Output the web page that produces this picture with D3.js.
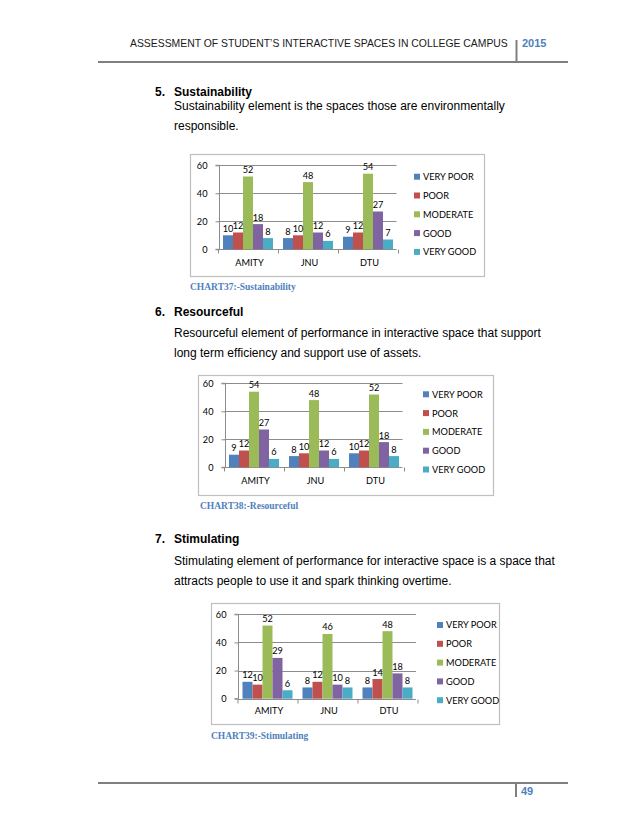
<!DOCTYPE html>
<html>
<head>
<meta charset="utf-8">
<script src="https://cdn.jsdelivr.net/npm/d3@7"></script>
<style>
  html, body { margin: 0; padding: 0; background: #fff; }
  svg { display: block; }
</style>
</head>
<body>
<script>
// ---------- DATA ----------
const categories = ["AMITY", "JNU", "DTU"];
const seriesNames = ["VERY POOR", "POOR", "MODERATE", "GOOD", "VERY GOOD"];
const seriesColors = ["#4F81BD", "#C0504D", "#9BBB59", "#8064A2", "#4BACC6"];
const yTicks = [0, 20, 40, 60];
// values per category: [VERY POOR, POOR, MODERATE, GOOD, VERY GOOD]
const sustainability = [[10, 12, 52, 18, 8], [8, 10, 48, 12, 6], [9, 12, 54, 27, 7]];
const resourceful    = [[9, 12, 54, 27, 6], [8, 10, 48, 12, 6], [10, 12, 52, 18, 8]];
const stimulating    = [[12, 10, 52, 29, 6], [8, 12, 46, 10, 8], [8, 14, 48, 18, 8]];
const captions = ["CHART37:-Sustainability", "CHART38:-Resourceful", "CHART39:-Stimulating"];

const headerText = "ASSESSMENT OF STUDENT\u2019S INTERACTIVE SPACES IN COLLEGE CAMPUS";
const headerYear = "2015";
const pageNumber = "49";
const sections = [
  { num: "5.", title: "Sustainability",
    lines: ["Sustainability element is the spaces those are environmentally", "responsible."] },
  { num: "6.", title: "Resourceful",
    lines: ["Resourceful element of performance in interactive space that support", "long term efficiency and support use of assets."] },
  { num: "7.", title: "Stimulating",
    lines: ["Stimulating element of performance for interactive space is a space that", "attracts people to use it and spark thinking overtime."] }
];

// ---------- LAYOUT ----------
const W = 638, H = 826;
const sectionLayout = [
  { titleY: 91, lineY: [105, 125] },
  { titleY: 311, lineY: [332, 352] },
  { titleY: 538, lineY: [560, 580.5] }
];
const chartLayout = [
  { box: [190, 154, 294, 122], axisX: 218.5, yTop: 165.3, yBot: 249.3, legendX: 414, legendY: 176.7, catY: 262.7, capX: 190, capY: 286 },
  { box: [198, 375, 295, 120], axisX: 224.5, yTop: 383.3, yBot: 467.3, legendX: 423, legendY: 394.3, catY: 480.7, capX: 200, capY: 505 },
  { box: [211, 603, 288, 121], axisX: 238, yTop: 614.3, yBot: 698.7, legendX: 437, legendY: 625, catY: 711, capX: 211, capY: 735 }
];
const chartData = [sustainability, resourceful, stimulating];

const svg = d3.select("body").append("svg").attr("width", W).attr("height", H);
svg.append("rect").attr("width", W).attr("height", H).attr("fill", "#fff");

const sans = "'Liberation Sans', Arial, sans-serif";
const chartFont = "Lato, 'Open Sans', sans-serif";
const chartFontSize = 9.2;

// Header
svg.append("text").attr("x", 130).attr("y", 47).attr("font-family", sans).attr("font-size", 10.4)
  .attr("fill", "#1a1a1a").text(headerText);
svg.append("line").attr("x1", 516.5).attr("x2", 516.5).attr("y1", 40).attr("y2", 62)
  .attr("stroke", "#7f7f7f").attr("stroke-width", 2);
svg.append("text").attr("x", 522).attr("y", 47).attr("font-family", sans).attr("font-size", 11)
  .attr("font-weight", "bold").attr("fill", "#4F81BD").text(headerYear);
svg.append("line").attr("x1", 98).attr("x2", 568).attr("y1", 62).attr("y2", 62)
  .attr("stroke", "#7f7f7f").attr("stroke-width", 2);

// Footer
svg.append("line").attr("x1", 98).attr("x2", 568).attr("y1", 783).attr("y2", 783)
  .attr("stroke", "#7f7f7f").attr("stroke-width", 2);
svg.append("line").attr("x1", 516).attr("x2", 516).attr("y1", 783).attr("y2", 797)
  .attr("stroke", "#7f7f7f").attr("stroke-width", 2);
svg.append("text").attr("x", 521).attr("y", 795).attr("font-family", sans).attr("font-size", 11)
  .attr("font-weight", "bold").attr("fill", "#4F81BD").text(pageNumber);

// Sections
sections.forEach((s, i) => {
  const L = sectionLayout[i];
  svg.append("text").attr("x", 155).attr("y", L.titleY + 4.5).attr("font-family", sans)
    .attr("font-size", 12).attr("font-weight", "bold").text(s.num);
  svg.append("text").attr("x", 174).attr("y", L.titleY + 4.5).attr("font-family", sans)
    .attr("font-size", 12).attr("font-weight", "bold").text(s.title);
  s.lines.forEach((ln, j) => {
    svg.append("text").attr("x", 174).attr("y", L.lineY[j] + 4.5).attr("font-family", sans)
      .attr("font-size", 12).attr("fill", "#000").text(ln);
  });
});

// Charts
chartData.forEach((data, ci) => {
  const C = chartLayout[ci];
  const g = svg.append("g");
  g.append("rect").attr("x", C.box[0] + 0.5).attr("y", C.box[1] + 0.5)
    .attr("width", C.box[2]).attr("height", C.box[3])
    .attr("fill", "#fff").attr("stroke", "#bfbfbf").attr("stroke-width", 1.2);

  const x = d3.scaleBand().domain(categories).range([C.axisX, C.axisX + 180]).paddingInner(0).paddingOuter(0);
  const xs = d3.scaleBand().domain(seriesNames).range([4.5, 54.5]);
  const y = d3.scaleLinear().domain([0, 60]).range([C.yBot, C.yTop]);

  // gridlines
  g.append("g").selectAll("line").data(yTicks.filter(t => t > 0)).join("line")
    .attr("x1", C.axisX).attr("x2", C.axisX + 178)
    .attr("y1", d => Math.round(y(d)) + 0.5).attr("y2", d => Math.round(y(d)) + 0.5)
    .attr("stroke", "#8c8c8c").attr("stroke-width", 1);

  // y axis
  const ya = g.append("g").attr("transform", `translate(${Math.round(C.axisX) + 0.5},0)`)
    .call(d3.axisLeft(y).tickValues(yTicks).tickSize(4).tickPadding(8).tickFormat(d3.format("d")));
  ya.select(".domain").attr("stroke", "#8c8c8c").attr("d", `M-4,${y(0)}H0V${y(60)}H-4`);
  ya.selectAll(".tick line").attr("stroke", "#8c8c8c");
  ya.selectAll(".tick text").attr("font-family", chartFont).attr("font-size", chartFontSize).attr("fill", "#000");

  // x axis
  const xa = g.append("g").attr("transform", `translate(0,${Math.round(y(0)) + 0.5})`)
    .call(d3.axisBottom(x).tickSize(0).tickPadding(0));
  xa.select(".domain").attr("stroke", "#8c8c8c").attr("d", `M${C.axisX},0H${C.axisX + 178}`);
  xa.selectAll(".tick text").remove();
  g.append("g").selectAll("line").data(d3.range(categories.length + 1)).join("line")
    .attr("x1", d => C.axisX + d * 60).attr("x2", d => C.axisX + d * 60)
    .attr("y1", Math.round(y(0)) + 0.5).attr("y2", Math.round(y(0)) + 4.5)
    .attr("stroke", "#8c8c8c");
  g.append("g").selectAll("text").data(categories).join("text")
    .attr("x", d => x(d) + x.bandwidth() / 2 + 1).attr("y", C.catY + 3.4)
    .attr("text-anchor", "middle").attr("font-family", chartFont).attr("font-size", chartFontSize)
    .attr("fill", "#000").text(d => d);

  // bars
  const groups = g.append("g").selectAll("g").data(data).join("g")
    .attr("transform", (d, i) => `translate(${x(categories[i])},0)`);
  groups.selectAll("rect").data(d => d.map((v, k) => ({ v, k }))).join("rect")
    .attr("x", d => xs(seriesNames[d.k])).attr("width", xs.bandwidth())
    .attr("y", d => y(d.v)).attr("height", d => y(0) - y(d.v))
    .attr("fill", d => seriesColors[d.k]);
  groups.selectAll("text").data(d => d.map((v, k) => ({ v, k }))).join("text")
    .attr("x", d => xs(seriesNames[d.k]) + xs.bandwidth() / 2).attr("y", d => y(d.v) - 3.5)
    .attr("text-anchor", "middle").attr("font-family", chartFont).attr("font-size", chartFontSize)
    .attr("fill", "#000").text(d => d.v);

  // legend
  const lg = g.append("g").selectAll("g").data(seriesNames).join("g")
    .attr("transform", (d, i) => `translate(${C.legendX},${C.legendY + i * 18.8})`);
  lg.append("rect").attr("x", 0).attr("y", -3).attr("width", 6).attr("height", 6)
    .attr("fill", (d, i) => seriesColors[i]);
  lg.append("text").attr("x", 9).attr("y", 3.4).attr("font-family", chartFont)
    .attr("font-size", chartFontSize).attr("fill", "#000").text(d => d);

  // caption
  svg.append("text").attr("x", C.capX).attr("y", C.capY + 3.5)
    .attr("font-family", "'Liberation Serif', 'Times New Roman', serif").attr("font-size", 9.5)
    .attr("font-weight", "bold").attr("fill", "#4F81BD").text(captions[ci]);
});
</script>
</body>
</html>
